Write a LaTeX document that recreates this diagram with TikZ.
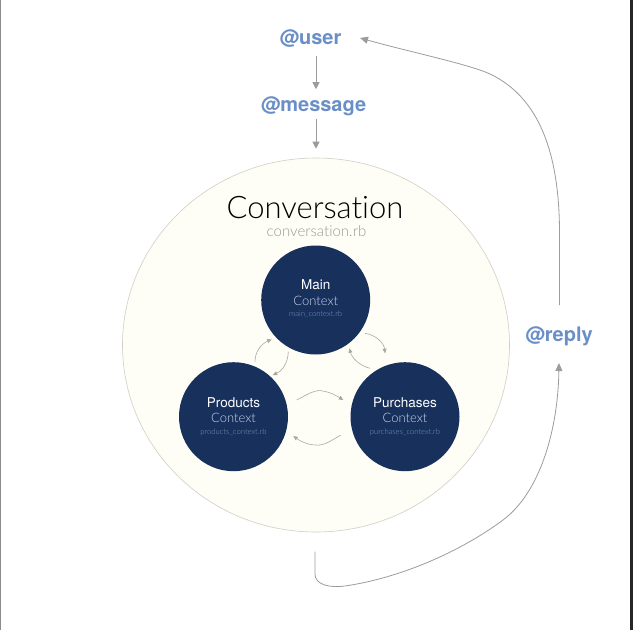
\documentclass[tikz,border=0pt]{standalone}
\usepackage{fontspec}
\setmainfont{TeX Gyre Heros}
\newfontfamily\lightf[Ligatures=NoCommon]{Lato Light}
\usetikzlibrary{arrows.meta,shapes.geometric}
\definecolor{navy}{HTML}{17305C}
\definecolor{cream}{HTML}{FEFEF6}
\definecolor{rimc}{HTML}{CFCFC6}
\definecolor{linkb}{HTML}{6A8FC6}
\definecolor{flowc}{HTML}{9C9C9C}
\definecolor{smallc}{HTML}{ABA999}
\definecolor{ctxc}{HTML}{CBD7EA}
\definecolor{filec}{HTML}{7F96BA}
\tikzset{
  x=1pt,y=-1pt,
  ctx/.style={circle,fill=navy,minimum size=109pt,inner sep=0pt,outer sep=0pt},
  tag/.style={text=linkb,font=\fontsize{20}{22}\selectfont\bfseries,inner sep=0pt},
  flow/.style={draw=flowc,line width=0.9pt,-{Triangle[length=7pt,width=7pt]}},
  sweep/.style={draw=flowc,line width=0.8pt,-{Triangle[length=8pt,width=7pt]}},
  hop/.style={draw=smallc,line width=0.6pt,-{Triangle[length=4.5pt,width=4pt]}},
  ttl/.style={text=white,font=\fontsize{13.5}{15}\selectfont,inner sep=0pt},
  ctl/.style={text=ctxc,font=\lightf\fontsize{13}{15}\selectfont,inner sep=0pt},
  fil/.style={text=filec,font=\lightf\fontsize{7.7}{9}\selectfont,inner sep=0pt},
}
\begin{document}
\begin{tikzpicture}
\useasboundingbox (0,0) rectangle (633,630);
\fill[white] (0,0) rectangle (633,630);
\fill[black!45] (0,0) rectangle (1.2,630);
\fill[black!85] (630,0) rectangle (633,630);

\node[ellipse,fill=cream,draw=rimc,line width=0.6pt,minimum width=387pt,minimum height=374pt,inner sep=0pt] (conv) at (316,345) {};
\node[text=black,font=\lightf\fontsize{31}{33}\selectfont,inner sep=0pt] (convt) at (315,208) {Conversation};
\node[text=black!40,font=\lightf\fontsize{15}{16}\selectfont,inner sep=0pt] (convf) at (316.5,231.5) {conversation.rb};

\node[ctx] (main) at (315.7,300) {};
\node[ctx] (products) at (233.5,416.7) {};
\node[ctx] (purchases) at (405,416.7) {};

\node[ttl] (mainA) at (315.7,285) {Main};
\node[ctl] (mainB) at (315.7,301) {Context};
\node[fil] (mainC) at (315.7,314) {main\_context.rb};
\node[ttl] (prodA) at (233.5,403) {Products};
\node[ctl] (prodB) at (233.5,418) {Context};
\node[fil] (prodC) at (233.5,432) {products\_context.rb};
\node[ttl] (purA) at (405,403) {Purchases};
\node[ctl] (purB) at (405,418) {Context};
\node[fil] (purC) at (405,432) {purchases\_context.rb};

\node[tag] (user) at (310.5,39) {@user};
\node[tag] (message) at (313.5,106) {@message};
\node[tag] (reply) at (559,336) {@reply};

\draw[flow,shorten <=8pt,shorten >=7pt] (user.south -| conv.north) -- (message.north -| conv.north);
\draw[flow,shorten <=3pt,shorten >=9pt] (message.south -| conv.north) -- (conv.north);

\coordinate (out) at (315,551.5);
\coordinate (back) at (559.5,305);
\draw[sweep] (out) -- (315,574) .. controls (315,585) and (330,588) .. (345,586)
  .. controls (400,578) and (460,552) .. (503,520)
  .. controls (540,492.5) and (558,430) .. (reply.south |- 0,363);
\draw[sweep] (back) -- (559.5,230) .. controls (559,165) and (545,100) .. (490,74)
  .. controls (470,64.5) and (410,52) .. (360,38);

\coordinate (a1) at (255,361.7); \coordinate (a2) at (271.7,339.3);
\coordinate (b1) at (288.3,351.7); \coordinate (b2) at (272.7,375);
\coordinate (c1) at (365,333.3); \coordinate (c2) at (385,353.3);
\coordinate (d1) at (370,368.3); \coordinate (d2) at (349.3,348.3);
\coordinate (e1) at (296.7,400); \coordinate (e2) at (343.3,400);
\coordinate (f1) at (340.7,435); \coordinate (f2) at (293.3,436);
\draw[hop] (a1) .. controls (255,352) and (261,344) .. (a2);
\draw[hop] (b1) .. controls (288,363) and (282,371) .. (b2);
\draw[hop] (c1) .. controls (376,335) and (384,343) .. (c2);
\draw[hop] (d1) .. controls (360,366) and (352,358) .. (d2);
\draw[hop] (e1) .. controls (308,394) and (316,389) .. (323,391) .. controls (330,392) and (337,396) .. (e2);
\draw[hop] (f1) .. controls (331,441) and (323,446) .. (316,445) .. controls (308,445) and (300,441) .. (f2);
\end{tikzpicture}
\end{document}
